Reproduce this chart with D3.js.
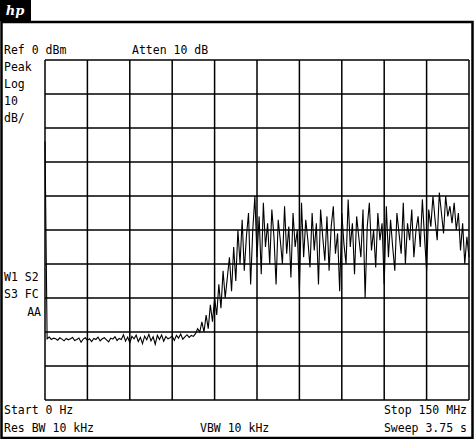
<!DOCTYPE html>
<html><head><meta charset="utf-8">
<script src="https://cdnjs.cloudflare.com/ajax/libs/d3/7.8.5/d3.min.js"></script>
<style>body{margin:0;background:#fff}text{font-family:"DejaVu Sans Mono",monospace;font-size:11.5px;fill:#000}</style>
</head><body><svg id="c" width="474" height="439"></svg>
<script>
const startMHz = 0, stopMHz = 150;
const refLevel = 0, dbPerDiv = 10, divisionsY = 10, divisionsX = 10;
const noise = [-82,-81.5,-82.2,-81.8,-82,-82.4,-81.7,-82.1,-82.6,-81.9,-82.3,-82,-81.6,-82.5,-82.2,-81.8,-83,-82.1,-81.7,-82.4,-82,-82.8,-81.9,-82.2,-81.5,-82.6,-82,-81.7,-82.3,-82.9,-81.8,-82.1,-81.4,-82.5,-81.9,-82.2,-80.8,-82.7,-81.5,-83.2,-81.3,-82,-80.9,-82.8,-81.6,-83.4,-81.2,-82.3,-80.7,-82.6,-81.4,-83.6,-81,-82.2,-80.9,-82.7,-81.3,-82,-81.7,-81.2,-82.5,-81,-81.8,-80.6,-82.1,-81.4,-80.8,-81.6,-81,-81.3,-80.5];
const rise = [-79,-80,-77,-80,-75,-79,-72,-77,-70,-75,-66,-73,-62,-70,-64,-58,-68,-55,-65,-50,-60];
const signal = [-47,-62,-52,-45,-66,-50,-40,-58,-46,-63,-42,-55,-48,-60,-44,-52,-66,-47,-53,-60,-43,-57,-49,-64,-45,-55,-50,-68,-42,-58,-47,-53,-61,-45,-56,-48,-66,-44,-52,-59,-46,-62,-49,-43,-57,-51,-68,-45,-54,-60,-41,-55,-48,-63,-46,-52,-58,-44,-70,-49,-42,-56,-50,-61,-45,-53,-48,-66,-43,-58,-47,-55,-62,-45,-51,-57,-42,-60,-48,-53,-44,-58,-50,-46,-55,-41,-52,-62,-44,-49,-40,-47,-53,-39,-45,-51,-40,-46,-43,-48,-42,-50,-45,-56,-48,-60,-52,-58];
const trace = [-24].concat(noise, rise, signal);

const svg = d3.select("#c");
const L=45, R=469, T=60, B=400;
const x = d3.scaleLinear().domain([startMHz, stopMHz]).range([L, R]);
const y = d3.scaleLinear().domain([refLevel - dbPerDiv*divisionsY, refLevel]).range([B, T]);
const fx = i => x(startMHz + i*(stopMHz-startMHz)/(trace.length-1));

// frame
svg.append("rect").attr("x",0).attr("y",0).attr("width",31).attr("height",21).attr("fill","#000");
svg.append("text").attr("x",15).attr("y",15).attr("text-anchor","middle").style("fill","#fff").style("font-family","DejaVu Serif").style("font-style","italic").style("font-size","13px").style("font-weight","bold").text("hp");
svg.append("rect").attr("x",1.5).attr("y",22).attr("width",471).attr("height",416).attr("fill","none").attr("stroke","#000").attr("stroke-width",2.5);

// grid
const g = svg.append("g").attr("stroke","#000").attr("stroke-width",1.5);
d3.range(divisionsX+1).forEach(i=>g.append("line").attr("x1",x(startMHz+i*15)).attr("x2",x(startMHz+i*15)).attr("y1",T).attr("y2",B));
d3.range(divisionsY+1).forEach(i=>g.append("line").attr("y1",y(-i*10)).attr("y2",y(-i*10)).attr("x1",L).attr("x2",R));

// trace
svg.append("path").datum(trace).attr("fill","none").attr("stroke","#000").attr("stroke-width",1.1)
  .attr("d", d3.line().x((d,i)=>fx(i)).y(d=>y(d)));

const txt=(s,xx,yy,a)=>svg.append("text").attr("x",xx).attr("y",yy).attr("text-anchor",a||"start").text(s);
txt("Ref 0 dBm",4,54); txt("Atten 10 dB",132,54);
txt("Peak",4,71); txt("Log",4,88); txt("10",4,105); txt("dB/",4,122);
txt("W1  S2",4,281); txt("S3 FC",4,298); txt("AA",41,316,"end");
txt("Start 0 Hz",4,414); txt("Stop 150 MHz",467,414,"end");
txt("Res BW 10 kHz",4,432); txt("VBW 10 kHz",200,432); txt("Sweep 3.75 s",467,432,"end");
</script></body></html>
